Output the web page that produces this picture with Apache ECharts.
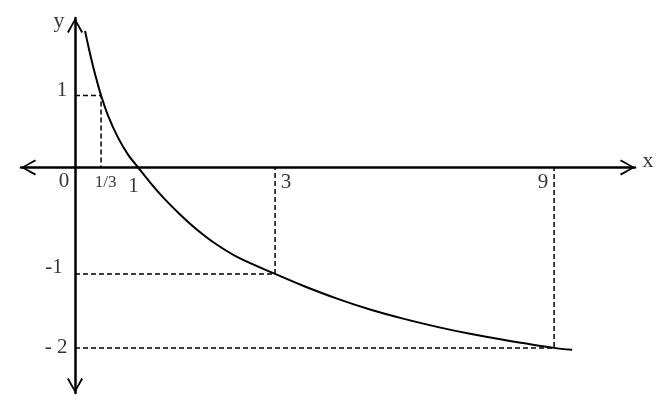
<!DOCTYPE html>
<html>
<head>
<meta charset="utf-8">
<script src="https://cdn.jsdelivr.net/npm/echarts@6/dist/echarts.min.js"></script>
<style>
	html, body { margin: 0; padding: 0; background: #fff; }
	#main { width: 667px; height: 403px; }
</style>
</head>
<body>
<div id="main"></div>
<script>
// the figure is a sketch, not to scale: positions are in sketch units
var curveX = [0.188, 0.263, 0.338, 0.413, 0.489, 0.620, 0.808, 0.996, 1.184, 1.409, 1.654, 1.973, 2.292, 2.668, 3.100, 3.758, 4.284, 4.923, 5.543, 6.163, 6.802, 7.422, 8.042, 9.000, 9.339];
var curveY = [1.512, 1.309, 1.122, 0.954, 0.798, 0.574, 0.330, 0.142, 0, -0.166, -0.332, -0.521, -0.690, -0.857, -1.009, -1.180, -1.311, -1.454, -1.575, -1.676, -1.767, -1.844, -1.909, -2.000, -2.022];

var xTickLabels = ['1/3', '1', '3', '9'];
var xTickPos = [0.489, 1.184, 3.758, 9];
var yTickLabels = ['1', '-1', '- 2'];
var yTickPos = [0.798, -1.180, -2];

// dashed guides: [x tick index, y tick index]
var guides = [[0, 0], [2, 1], [3, 2]];

var main = document.getElementById('main');
var myChart = echarts.init(main);

var serif = '"Liberation Serif", "Times New Roman", serif';
var arrow = 'path://M0,0 L8,14 L6.3,15 L0,3.2 L-6.3,15 L-8,14 Z';

var curveData = [];
for (var i = 0; i < curveX.length; i++) {
	curveData.push([curveX[i], curveY[i]]);
}

var series = [];
guides.forEach(function (g) {
	var gx = xTickPos[g[0]], gy = yTickPos[g[1]];
	series.push({
		type: 'line',
		data: [[0, gy], [gx, gy], [gx, 0]],
		showSymbol: false,
		silent: true,
		lineStyle: { color: '#000', width: 1.5, type: [5, 3] },
		z: 2
	});
});

series.push({
	type: 'line',
	data: curveData,
	smooth: 0.3,
	showSymbol: false,
	silent: true,
	lineStyle: { color: '#000', width: 2 },
	z: 3
});

// text labels
var xOffsets = [[4.5, 15.5], [-4.5, 19.5], [11, 15.5], [-11, 15.5]];
var yOffsets = [[-13, -5], [-21, -6], [-19, 0]];
var labelData = [];
function addLabel(x, y, text, offset, size) {
	labelData.push({
		value: [x, y],
		label: { show: true, formatter: text, position: 'inside', offset: offset, fontSize: size || 21 }
	});
}
xTickLabels.forEach(function (t, i) {
	addLabel(xTickPos[i], 0, t, xOffsets[i], i === 0 ? 17 : 21);
});
yTickLabels.forEach(function (t, i) {
	addLabel(0, yTickPos[i], t, yOffsets[i]);
});
addLabel(0, 0, '0', [-11, 14]);
addLabel(0, 1.656, 'y', [-16, 3], 22);
addLabel(10.52, 0, 'x', [13, -6], 22);

series.push({
	type: 'scatter',
	data: labelData,
	symbolSize: 0,
	silent: true,
	label: { color: '#000', fontFamily: serif },
	z: 5
});

var axisLine = {
	onZero: true,
	symbol: [arrow, arrow],
	symbolSize: [16, 15],
	symbolOffset: [7.5, -7.5],
	lineStyle: { color: '#000', width: 2.5 }
};

var option = {
	animation: false,
	backgroundColor: '#fff',
	grid: { left: 21, right: 32, top: 18, bottom: 10 },
	xAxis: {
		type: 'value',
		min: -1.015,
		max: 10.52,
		axisLine: axisLine,
		axisTick: { show: false },
		axisLabel: { show: false },
		splitLine: { show: false }
	},
	yAxis: {
		type: 'value',
		min: -2.5,
		max: 1.656,
		axisLine: axisLine,
		axisTick: { show: false },
		axisLabel: { show: false },
		splitLine: { show: false }
	},
	series: series
};
myChart.setOption(option);
</script>
</body>
</html>
